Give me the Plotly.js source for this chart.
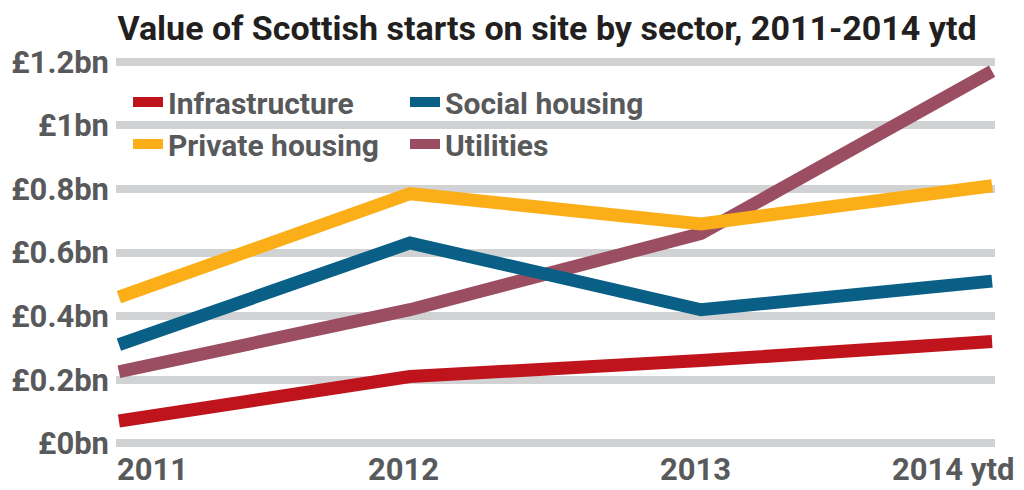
<!DOCTYPE html>
<html>
<head>
<meta charset="utf-8">
<script src="https://cdn.plot.ly/plotly-3.0.1.min.js"></script>
<style>html,body{margin:0;padding:0;background:#fff}#chart{width:1024px;height:490px}</style>
</head>
<body>
<div id="chart"></div>
<script>
const categories = ['2011', '2012', '2013', '2014 ytd'];
const infrastructure = [0.07, 0.21, 0.26, 0.32];
const socialHousing = [0.31, 0.63, 0.42, 0.51];
const privateHousing = [0.46, 0.785, 0.69, 0.81];
const utilities = [0.225, 0.42, 0.66, 1.17];
const yTickVals = [0, 0.2, 0.4, 0.6, 0.8, 1.0, 1.2];
const yTickText = ['£0bn', '£0.2bn', '£0.4bn', '£0.6bn', '£0.8bn', '£1bn', '£1.2bn'];

const FONT = 'Roboto, "Open Sans", sans-serif';
const GREY = '#58595b';

function tr(name, y, color, legend, rank) {
  return {
    type: 'scatter', mode: 'lines', name: name, x: categories, y: y,
    line: {color: color, width: 13},
    legend: legend, legendrank: rank, hoverinfo: 'skip'
  };
}

const data = [
  tr('Utilities', utilities, '#9b4e62', 'legend2', 2),
  tr('Infrastructure', infrastructure, '#c0141d', 'legend', 1),
  tr('Social housing', socialHousing, '#0a5f86', 'legend2', 1),
  tr('Private housing', privateHousing, '#fbae17', 'legend', 2)
];

const PL = 116, PW = 879, PT = 49, PH = 407;
const legendBase = {
  orientation: 'v', bgcolor: 'rgba(0,0,0,0)', borderwidth: 0,
  font: {family: FONT, size: 30, color: GREY, weight: 'bold'},
  xref: 'paper', yref: 'paper', xanchor: 'left', yanchor: 'top',
  itemwidth: 30, tracegroupgap: 0
};

const last = categories.length - 1;
const annotations = categories.map((c, i) => ({
  x: i, y: 0, xref: 'x', yref: 'paper', yanchor: 'top',
  xanchor: i === 0 ? 'left' : (i === last ? 'right' : 'center'),
  xshift: i === 0 ? -4 : (i === last ? 24 : -6),
  yshift: 7,
  text: c, showarrow: false,
  font: {family: FONT, size: 31, color: GREY, weight: 'bold'}
}));

const layout = {
  width: 1024, height: 490,
  paper_bgcolor: '#ffffff', plot_bgcolor: '#ffffff',
  margin: {l: PL, r: 1024 - PL - PW, t: PT, b: 490 - PT - PH, autoexpand: false},
  title: {
    text: 'Value of Scottish starts on site by sector, 2011-2014 ytd',
    font: {family: FONT, size: 34, color: '#231f20', weight: 'bold'},
    x: 547 / 1024, xref: 'container', xanchor: 'center',
    y: 1 - 28 / 490, yref: 'container', yanchor: 'middle'
  },
  xaxis: {
    type: 'category', range: [-0.01, 3.01],
    showgrid: false, zeroline: false, showline: false, showticklabels: false, ticks: ''
  },
  yaxis: {
    range: [-0.04, 1.24], tickvals: yTickVals, ticktext: yTickText,
    showgrid: true, gridcolor: '#d1d2d4', gridwidth: 8,
    zeroline: false, showline: false, ticks: '', ticklabelstandoff: 6,
    tickfont: {family: FONT, size: 31, color: GREY, weight: 'bold'}
  },
  showlegend: true,
  legend: Object.assign({}, legendBase, {x: (128 - PL) / PW, y: 1 - (76 - PT) / PH}),
  legend2: Object.assign({}, legendBase, {x: (405 - PL) / PW, y: 1 - (76 - PT) / PH}),
  annotations: annotations
};

Plotly.newPlot('chart', data, layout, {displayModeBar: false, staticPlot: true});
</script>
</body>
</html>
